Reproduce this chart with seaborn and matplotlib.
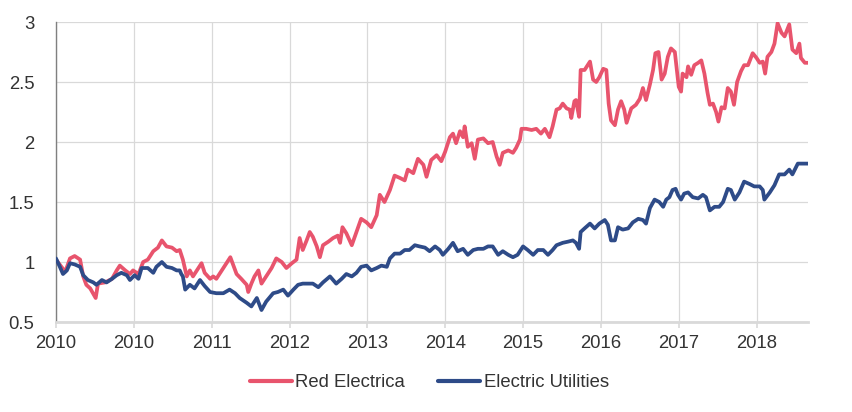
import pandas as pd
import numpy as np
import seaborn as sns
import matplotlib.pyplot as plt

# time positions are in axis tick units (0 = first "2010" tick)
red_t = [0.00, 0.07, 0.12, 0.18, 0.24, 0.31, 0.35, 0.39, 0.44, 0.51, 0.54, 0.63,
         0.72, 0.78, 0.82, 0.89, 0.95, 0.99, 1.06, 1.12, 1.18, 1.25, 1.31, 1.36,
         1.42, 1.49, 1.55, 1.59, 1.63, 1.68, 1.72, 1.76, 1.83, 1.87, 1.91, 1.98,
         2.02, 2.06, 2.13, 2.19, 2.24, 2.28, 2.32, 2.38, 2.45, 2.47, 2.51, 2.55,
         2.60, 2.64, 2.70, 2.77, 2.83, 2.90, 2.96, 3.03, 3.09, 3.13, 3.17, 3.22,
         3.26, 3.30, 3.35, 3.39, 3.43, 3.50, 3.56, 3.62, 3.65, 3.68, 3.73, 3.80,
         3.86, 3.92, 3.99, 4.05, 4.12, 4.16, 4.22, 4.29, 4.35, 4.42, 4.48, 4.52,
         4.59, 4.65, 4.72, 4.76, 4.82, 4.89, 4.95, 5.00, 5.06, 5.10, 5.14, 5.19,
         5.23, 5.25, 5.29, 5.34, 5.38, 5.42, 5.49, 5.55, 5.61, 5.66, 5.70, 5.74,
         5.81, 5.87, 5.91, 5.96, 5.98, 6.04, 6.11, 6.17, 6.23, 6.28, 6.34, 6.38,
         6.43, 6.47, 6.51, 6.56, 6.60, 6.62, 6.66, 6.68, 6.72, 6.74, 6.79, 6.83,
         6.86, 6.90, 6.94, 6.98, 7.03, 7.07, 7.10, 7.13, 7.18, 7.22, 7.26, 7.30,
         7.33, 7.39, 7.45, 7.50, 7.54, 7.58, 7.63, 7.67, 7.70, 7.74, 7.78, 7.82,
         7.86, 7.90, 7.95, 8.00, 8.03, 8.05, 8.10, 8.12, 8.16, 8.20, 8.25, 8.29,
         8.33, 8.37, 8.40, 8.44, 8.48, 8.51, 8.55, 8.59, 8.63, 8.67, 8.71, 8.75,
         8.80, 8.84, 8.89, 8.95, 9.00, 9.04, 9.08, 9.11, 9.14, 9.19, 9.23, 9.27,
         9.32, 9.36, 9.42, 9.46, 9.51, 9.55, 9.57, 9.62, 9.66]
red_v = [1.02, 0.96, 0.92, 1.03, 1.05, 1.02, 0.88, 0.81, 0.78, 0.70, 0.82, 0.83,
         0.86, 0.93, 0.97, 0.93, 0.90, 0.93, 0.90, 1.00, 1.02, 1.09, 1.12, 1.18,
         1.13, 1.12, 1.09, 1.10, 1.02, 0.88, 0.93, 0.88, 0.95, 0.99, 0.91, 0.86,
         0.88, 0.86, 0.93, 0.99, 1.04, 0.97, 0.90, 0.86, 0.81, 0.75, 0.82, 0.88,
         0.93, 0.82, 0.88, 0.95, 1.03, 1.00, 0.95, 0.99, 1.02, 1.20, 1.10, 1.18,
         1.25, 1.21, 1.13, 1.04, 1.14, 1.17, 1.20, 1.22, 1.16, 1.29, 1.24, 1.14,
         1.25, 1.36, 1.33, 1.29, 1.39, 1.56, 1.50, 1.60, 1.72, 1.70, 1.68, 1.77,
         1.74, 1.86, 1.81, 1.71, 1.85, 1.89, 1.84, 1.92, 2.04, 2.07, 1.99, 2.09,
         2.04, 2.13, 1.96, 1.99, 1.86, 2.02, 2.03, 1.99, 2.00, 1.88, 1.81, 1.91,
         1.93, 1.91, 1.95, 2.02, 2.11, 2.11, 2.10, 2.11, 2.07, 2.11, 2.04, 2.13,
         2.27, 2.28, 2.32, 2.28, 2.27, 2.20, 2.34, 2.35, 2.21, 2.60, 2.60, 2.64,
         2.67, 2.52, 2.50, 2.54, 2.61, 2.60, 2.32, 2.18, 2.14, 2.27, 2.34, 2.27,
         2.16, 2.28, 2.31, 2.36, 2.45, 2.35, 2.48, 2.60, 2.74, 2.75, 2.52, 2.57,
         2.71, 2.78, 2.75, 2.46, 2.42, 2.57, 2.54, 2.63, 2.56, 2.64, 2.66, 2.68,
         2.57, 2.41, 2.31, 2.32, 2.25, 2.17, 2.29, 2.28, 2.45, 2.42, 2.31, 2.50,
         2.59, 2.64, 2.64, 2.74, 2.70, 2.66, 2.67, 2.57, 2.71, 2.75, 2.82, 2.99,
         2.91, 2.88, 2.98, 2.77, 2.74, 2.82, 2.70, 2.66, 2.66]

blue_t = [0.00, 0.05, 0.09, 0.14, 0.18, 0.24, 0.31, 0.35, 0.41, 0.48, 0.52, 0.59,
          0.65, 0.72, 0.78, 0.84, 0.91, 0.95, 1.01, 1.06, 1.10, 1.18, 1.25, 1.29,
          1.36, 1.42, 1.49, 1.55, 1.59, 1.61, 1.63, 1.66, 1.72, 1.78, 1.85, 1.91,
          1.98, 2.06, 2.15, 2.23, 2.30, 2.36, 2.45, 2.51, 2.58, 2.64, 2.70, 2.79,
          2.85, 2.92, 2.98, 3.05, 3.11, 3.17, 3.22, 3.30, 3.37, 3.43, 3.52, 3.60,
          3.67, 3.73, 3.80, 3.86, 3.92, 3.99, 4.05, 4.12, 4.18, 4.25, 4.29, 4.35,
          4.42, 4.48, 4.54, 4.61, 4.67, 4.74, 4.80, 4.87, 4.93, 4.97, 5.04, 5.10,
          5.16, 5.23, 5.29, 5.36, 5.42, 5.49, 5.55, 5.61, 5.68, 5.74, 5.81, 5.87,
          5.93, 6.00, 6.06, 6.13, 6.19, 6.26, 6.32, 6.38, 6.43, 6.51, 6.58, 6.64,
          6.68, 6.72, 6.74, 6.79, 6.86, 6.92, 6.98, 7.05, 7.09, 7.13, 7.18, 7.22,
          7.28, 7.35, 7.41, 7.48, 7.54, 7.58, 7.63, 7.69, 7.75, 7.80, 7.84, 7.88,
          7.92, 7.96, 7.99, 8.03, 8.07, 8.12, 8.18, 8.25, 8.31, 8.35, 8.40, 8.46,
          8.52, 8.57, 8.63, 8.67, 8.72, 8.78, 8.84, 8.91, 8.97, 9.04, 9.08, 9.10,
          9.17, 9.23, 9.29, 9.36, 9.42, 9.46, 9.53, 9.59, 9.66]
blue_v = [1.03, 0.96, 0.90, 0.93, 0.99, 0.98, 0.96, 0.89, 0.85, 0.83, 0.81, 0.85,
          0.83, 0.86, 0.89, 0.91, 0.89, 0.85, 0.89, 0.86, 0.95, 0.95, 0.91, 0.96,
          1.00, 0.96, 0.95, 0.93, 0.93, 0.90, 0.88, 0.77, 0.81, 0.78, 0.85, 0.80,
          0.75, 0.74, 0.74, 0.77, 0.74, 0.70, 0.66, 0.63, 0.70, 0.60, 0.67, 0.74,
          0.75, 0.77, 0.72, 0.77, 0.81, 0.82, 0.82, 0.82, 0.79, 0.83, 0.88, 0.82,
          0.86, 0.90, 0.88, 0.91, 0.96, 0.97, 0.93, 0.95, 0.97, 0.96, 1.03, 1.07,
          1.07, 1.10, 1.10, 1.14, 1.13, 1.12, 1.09, 1.13, 1.10, 1.06, 1.11, 1.16,
          1.09, 1.11, 1.06, 1.10, 1.11, 1.11, 1.13, 1.13, 1.06, 1.09, 1.06, 1.04,
          1.06, 1.13, 1.10, 1.06, 1.10, 1.10, 1.06, 1.10, 1.14, 1.16, 1.17, 1.18,
          1.16, 1.11, 1.25, 1.28, 1.32, 1.28, 1.32, 1.35, 1.31, 1.18, 1.18, 1.29,
          1.27, 1.28, 1.33, 1.36, 1.35, 1.32, 1.45, 1.52, 1.50, 1.46, 1.52, 1.54,
          1.60, 1.61, 1.56, 1.52, 1.57, 1.58, 1.54, 1.53, 1.56, 1.54, 1.43, 1.46,
          1.46, 1.50, 1.61, 1.60, 1.52, 1.58, 1.67, 1.65, 1.63, 1.63, 1.60, 1.52,
          1.58, 1.64, 1.73, 1.73, 1.77, 1.73, 1.82, 1.82, 1.82]

tick_labels = ["2010", "2010", "2011", "2012", "2013", "2014",
               "2015", "2016", "2017", "2018"]
series_names = ["Red Electrica", "Electric Utilities"]
colors = ["#E8546D", "#2E4B88"]

df = pd.concat([
    pd.DataFrame({"t": red_t, "value": red_v, "series": series_names[0]}),
    pd.DataFrame({"t": blue_t, "value": blue_v, "series": series_names[1]}),
])

sns.set_style("white")
plt.rcParams['font.family'] = ['Liberation Sans', 'DejaVu Sans']

fig = plt.figure(figsize=(8.52, 4.12), dpi=100)
ax = fig.add_axes([0.0657, 0.2184, 0.8826, 0.7282])

sns.lineplot(data=df, x="t", y="value", hue="series", hue_order=series_names,
             palette=colors, estimator=None, linewidth=2.7, ax=ax, zorder=3)

ax.set_xlim(0, 9.66)
ax.set_ylim(0.5, 3.0)
ax.set_xticks(range(len(tick_labels)))
ax.set_xticklabels(tick_labels)
ax.set_yticks([0.5, 1, 1.5, 2, 2.5, 3])
ax.set_yticklabels(["0.5", "1", "1.5", "2", "2.5", "3"])
ax.set_xlabel("")
ax.set_ylabel("")

ax.grid(True, color="#d9d9d9", linewidth=0.9, zorder=0)
for side in ["top", "right"]:
    ax.spines[side].set_visible(False)
ax.spines["left"].set_color("#808080")
ax.spines["left"].set_linewidth(1.0)
ax.spines["bottom"].set_color("#d9d9d9")
ax.spines["bottom"].set_linewidth(2.0)

ax.tick_params(axis="x", bottom=True, length=4, width=1.2, color="#d9d9d9",
               labelsize=13.3, labelcolor="#333333", pad=5)
ax.tick_params(axis="y", left=False, labelsize=13.3, labelcolor="#333333", pad=12)

ax.legend(loc="center", bbox_to_anchor=(0.504, 0.0704), bbox_transform=fig.transFigure,
          ncol=2, frameon=False, fontsize=13.3, handlelength=2.25,
          handletextpad=0.2, columnspacing=1.8, labelcolor="#333333")
for line in ax.get_legend().get_lines():
    line.set_linewidth(3)

fig.savefig("out.png", dpi=100)
